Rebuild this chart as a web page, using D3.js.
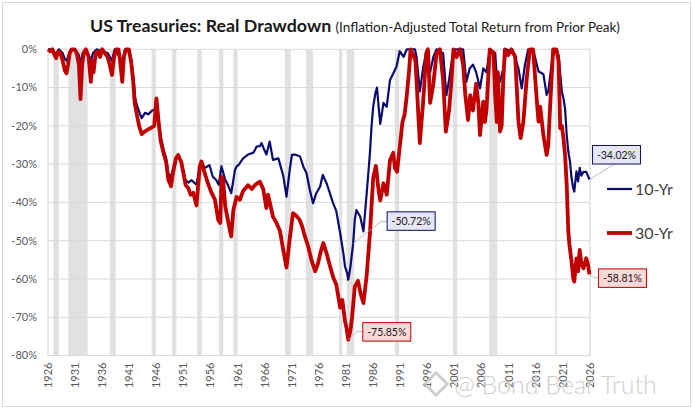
<!DOCTYPE html>
<html>
<head>
<meta charset="utf-8">
<script src="https://cdn.jsdelivr.net/npm/d3@7"></script>
<style>
  body { margin: 0; background: #fff; }
  svg { display: block; font-family: Lato, "Liberation Sans", sans-serif; }
</style>
</head>
<body>
<svg id="chart" width="693" height="409"></svg>
<script>
// year, drawdown %
const tenYr = [
  [1926.0, 0], [1926.5, 0], [1927.0, -0.5], [1927.5, -1.5], [1928.0, 0], [1928.7, -1],
  [1929.1, -2.5], [1929.4, -3], [1929.8, -1.5], [1930.2, 0], [1931.0, 0], [1931.7, -1.5],
  [1932.0, -4], [1932.4, -1], [1933.0, 0], [1933.9, -3], [1934.3, -1], [1935.0, 0],
  [1937.0, -1], [1937.8, -3], [1938.3, 0], [1939.7, -3], [1940.2, 0], [1941.0, 0],
  [1941.4, -3], [1941.8, -8], [1942.1, -13], [1942.5, -15], [1943.0, -17], [1943.3, -18],
  [1943.9, -16.6], [1944.5, -17], [1945.2, -16], [1945.7, -15.8], [1946.0, -12.8], [1946.4, -18],
  [1946.8, -23], [1947.3, -26], [1947.8, -28.5], [1948.2, -32.3], [1948.7, -33.5], [1949.1, -31],
  [1949.6, -28.5], [1950.0, -27.6], [1950.6, -29.5], [1951.0, -32], [1951.3, -34], [1951.9, -34.8],
  [1952.5, -34.2], [1953.1, -35], [1953.4, -35.4], [1954.0, -30.6], [1954.3, -29.3], [1954.9, -31],
  [1955.8, -30.3], [1956.4, -33.3], [1957.0, -34.1], [1957.5, -35.4], [1958.0, -30.6], [1958.7, -34.1],
  [1959.3, -35.8], [1959.8, -37.6], [1960.5, -31.5], [1960.8, -30.6], [1961.1, -30.3], [1962.0, -28.5],
  [1962.9, -27.5], [1963.9, -27], [1964.5, -25.4], [1965.1, -25.3], [1965.4, -24.5], [1965.8, -25.9],
  [1966.3, -27.5], [1966.9, -24.1], [1967.5, -28.9], [1968.5, -28.5], [1969.4, -33], [1970.0, -38.5],
  [1970.6, -31.5], [1971.0, -27.6], [1971.6, -27.5], [1972.5, -28], [1973.1, -30.6], [1973.7, -32.4],
  [1974.3, -36.7], [1974.9, -40.2], [1975.5, -37.6], [1976.2, -35.9], [1976.7, -32.8], [1977.4, -35],
  [1978.0, -37.6], [1978.6, -40.2], [1979.2, -42.3], [1979.9, -48], [1980.5, -53.3], [1980.8, -56.8],
  [1981.2, -58.5], [1981.4, -60.2], [1981.8, -56.8], [1982.3, -50.72], [1982.6, -44.6], [1982.9, -42],
  [1983.6, -43.7], [1984.2, -47.6], [1984.7, -39.3], [1985.1, -32.4], [1985.4, -27], [1985.7, -20],
  [1986.0, -15], [1986.4, -11.5], [1986.7, -10], [1987.0, -15], [1987.3, -19.5], [1987.9, -14],
  [1988.5, -15], [1989.1, -8], [1989.7, -6.3], [1990.3, -4.5], [1990.9, -0.5], [1991.6, -2],
  [1992.2, 0], [1993.0, 0], [1993.7, 0], [1994.0, -2], [1994.6, -11], [1995.2, -5],
  [1995.8, -0.5], [1996.5, -6], [1997.1, -2], [1997.7, 0], [1998.9, -1], [1999.5, -12],
  [2000.0, -8], [2000.8, 0], [2002.6, 0], [2003.2, -8.5], [2003.8, -5], [2004.4, -4],
  [2005.0, -6], [2005.7, -10.2], [2006.3, -5], [2006.9, -6], [2007.5, 0], [2008.5, -1],
  [2008.8, -7.6], [2009.4, -8.5], [2010.0, -5], [2010.6, 0], [2011.9, -1], [2012.8, -5],
  [2013.4, -10.2], [2014.0, -4], [2014.6, 0], [2015.5, 0], [2016.5, -5.8], [2016.8, -6],
  [2017.4, -6.5], [2018.0, -11.9], [2018.3, -11], [2018.9, -4], [2019.5, 0], [2020.2, -1.5],
  [2020.8, -11], [2021.1, -12.8], [2021.4, -15.5], [2021.7, -22.4], [2022.0, -26.7], [2022.3, -29.3],
  [2022.6, -33.7], [2022.9, -36.3], [2023.1, -37.2], [2023.5, -31.9], [2023.8, -34.5], [2024.1, -31],
  [2024.4, -33], [2024.8, -32], [2025.3, -32], [2025.6, -33], [2025.9, -34.02]
];

const thirtyYr = [
  [1926.0, 0], [1926.4, -0.5], [1926.8, 0], [1927.2, -1.5], [1927.5, -2.3], [1927.9, -0.5],
  [1928.3, -1], [1928.7, -3], [1929.1, -5.5], [1929.4, -6.3], [1929.7, -4], [1930.0, -1],
  [1930.4, 0], [1930.9, 0], [1931.3, -1], [1931.7, -4], [1932.0, -13], [1932.3, -4],
  [1932.6, -1], [1933.0, 0], [1933.5, -2], [1933.9, -8.5], [1934.2, -3], [1934.4, -6],
  [1934.8, -1], [1935.2, -0.5], [1935.6, -2], [1936.0, 0], [1936.5, -1], [1937.0, -2],
  [1937.4, -4], [1937.8, -6.7], [1938.2, -2], [1938.6, 0], [1939.0, 0], [1939.3, -3],
  [1939.7, -8.5], [1940.0, -2], [1940.4, 0], [1940.9, 0], [1941.3, -3], [1941.7, -8],
  [1942.0, -14], [1942.4, -17], [1942.8, -20], [1943.3, -22.2], [1943.8, -21.5], [1944.4, -21],
  [1945.0, -20.5], [1945.6, -20], [1946.0, -12.8], [1946.4, -19], [1946.8, -24], [1947.3, -27],
  [1947.8, -29.5], [1948.2, -34], [1948.7, -35.8], [1949.1, -32], [1949.6, -28.5], [1950.0, -27.6],
  [1950.6, -29.5], [1951.0, -32.5], [1951.4, -35.5], [1951.9, -36.3], [1952.3, -38], [1952.8, -37.5],
  [1953.4, -40.8], [1954.0, -30.6], [1954.3, -29.3], [1954.9, -32.3], [1955.5, -35], [1956.2, -37.6],
  [1956.8, -39.3], [1957.4, -44.6], [1957.8, -45.4], [1958.0, -33.3], [1958.3, -34], [1958.7, -41],
  [1959.3, -45.4], [1959.8, -48.9], [1960.2, -42], [1960.8, -38.6], [1961.4, -39.3], [1962.0, -37],
  [1962.9, -35.5], [1963.6, -36.5], [1964.2, -35.4], [1965.1, -34.6], [1965.7, -36.5], [1966.3, -41.5],
  [1966.6, -38], [1967.0, -40.5], [1967.5, -43.7], [1968.2, -45.5], [1968.8, -47.5], [1969.4, -52.4],
  [1970.0, -57], [1970.6, -49.5], [1971.2, -42.8], [1971.8, -43.5], [1972.4, -44.5], [1972.9, -46.3],
  [1973.4, -48.9], [1974.0, -51.5], [1974.6, -55], [1975.3, -58], [1975.8, -56], [1976.3, -53],
  [1976.8, -50.6], [1977.4, -53.3], [1978.0, -56.5], [1978.6, -59.5], [1979.2, -61.5], [1979.9, -67.5],
  [1980.3, -65.5], [1980.8, -71], [1981.1, -73], [1981.4, -75.85], [1981.8, -73.5], [1982.1, -70],
  [1982.6, -62], [1983.2, -60.5], [1983.7, -64], [1984.2, -66.3], [1984.8, -59], [1985.4, -48],
  [1986.0, -33.5], [1986.5, -30.5], [1987.0, -37], [1987.3, -39.5], [1987.9, -35], [1988.5, -38],
  [1989.1, -29], [1989.7, -27], [1990.0, -31], [1990.4, -32], [1990.9, -25.5], [1991.4, -19],
  [1991.8, -17], [1992.2, -12], [1992.6, -6], [1992.9, 0], [1993.4, -1.5], [1993.8, -3],
  [1994.1, -11], [1994.6, -24.5], [1995.2, -14], [1995.8, -1], [1996.1, 0], [1996.5, -14],
  [1997.1, -9], [1997.7, -1], [1998.3, 0], [1998.9, -8], [1999.4, -21.5], [2000.0, -16],
  [2000.4, -9], [2000.8, 0], [2001.4, -2], [2002.0, 0], [2002.6, -4], [2003.0, -12],
  [2003.5, -18.5], [2003.9, -12], [2004.4, -16], [2005.0, -9], [2005.4, -14], [2005.7, -22.4],
  [2006.3, -13.7], [2006.6, -19], [2006.9, -16], [2007.5, 0], [2008.2, -1], [2008.5, -12],
  [2008.8, -19], [2009.0, -6], [2009.4, -21.5], [2009.7, -20], [2010.0, -8], [2010.3, 0],
  [2010.9, -1.5], [2011.5, 0], [2012.2, -2], [2012.8, -18.9], [2013.2, -23.2], [2013.7, -19],
  [2014.3, -8], [2014.9, 0], [2015.5, 0], [2016.2, -13.7], [2016.5, -18.9], [2016.8, -15],
  [2017.4, -22.4], [2018.0, -27.6], [2018.3, -25], [2018.6, -16], [2019.2, 0], [2019.8, 0],
  [2020.2, -3], [2020.5, -20.6], [2020.8, -20], [2021.1, -23.2], [2021.4, -27.6], [2021.7, -35.4],
  [2022.0, -47.6], [2022.2, -51], [2022.6, -55.5], [2022.9, -59.8], [2023.1, -60.7], [2023.5, -54.6],
  [2023.8, -58], [2024.1, -52.4], [2024.4, -56], [2024.8, -57.2], [2025.3, -54.6], [2025.6, -56],
  [2025.9, -58.81]
];

// shaded recession periods [start, end]
const recessions = [
  [1927.0, 1928.0], [1929.75, 1933.3], [1937.4, 1938.5], [1945.1, 1945.9], [1948.9, 1949.7],
  [1953.55, 1954.35], [1957.55, 1958.35], [1960.2, 1961.0], [1969.7, 1970.8], [1973.6, 1974.9],
  [1979.7, 1980.3], [1981.1, 1982.5], [1990.0, 1990.8], [2000.7, 2001.5], [2007.4, 2008.9],
  [2019.6, 2019.9]
];

const yearTicks = d3.range(1926, 2027, 5);
const pctTicks = [0, -10, -20, -30, -40, -50, -60, -70, -80];

// callouts: series, point year, label
const callouts = [
  { series: "10", year: 2025.9, label: "-34.02%", dx: 3, dy: -34, lead: [[26, -16]] },
  { series: "30", year: 2025.9, label: "-58.81%", dx: 9, dy: -5.5, lead: [[5, 3.5], [9, 3.5]] },
  { series: "10", year: 1982.3, label: "-50.72%", dx: 34, dy: -31.6, lead: [[28, -22], [34, -22]] },
  { series: "30", year: 1981.4, label: "-75.85%", dx: 14.5, dy: -17, lead: [[9, -8], [14.5, -8]] }
];

const colors = { "10": "#0c0c6e", "30": "#c00000" };
const boxFill = { "10": "#e6e6f6", "30": "#fbd9d9" };

const svg = d3.select("#chart");
const margin = { left: 48, right: 103, top: 49.3, bottom: 53.5 };
const W = 693, H = 409;

const x = d3.scaleLinear().domain([1926, 2026]).range([margin.left, W - margin.right]);
const y = d3.scaleLinear().domain([0, -80]).range([margin.top, H - margin.bottom]);

// outer chart border
svg.append("rect")
  .attr("x", 2.5).attr("y", 2.5)
  .attr("width", W - 5).attr("height", H - 5)
  .attr("fill", "#fff")
  .attr("stroke", "#d9d9d9");

// title
const title = svg.append("text")
  .attr("x", 90)
  .attr("y", 32)
  .attr("fill", "#1a1a1a");
title.append("tspan")
  .attr("font-weight", "bold")
  .attr("font-size", 17.8)
  .text("US Treasuries: Real Drawdown ");
title.append("tspan")
  .attr("font-size", 13.5)
  .text("(Inflation-Adjusted Total Return from Prior Peak)");

// recession shading
svg.append("g")
  .selectAll("rect")
  .data(recessions)
  .join("rect")
  .attr("x", d => x(d[0]))
  .attr("width", d => Math.max(1.2, x(d[1]) - x(d[0])))
  .attr("y", y(0))
  .attr("height", y(-80) - y(0))
  .attr("fill", "#e1e1e1");

// gridlines
svg.append("g")
  .selectAll("line")
  .data(pctTicks)
  .join("line")
  .attr("x1", x(1926)).attr("x2", x(2026))
  .attr("y1", d => y(d)).attr("y2", d => y(d))
  .attr("stroke", "#d9d9d9")
  .attr("stroke-width", 1);

// plot edges
svg.append("line")
  .attr("x1", x(1926)).attr("x2", x(1926))
  .attr("y1", y(0)).attr("y2", y(-80))
  .attr("stroke", "#d0d0d0");
svg.append("line")
  .attr("x1", x(2026)).attr("x2", x(2026))
  .attr("y1", y(0)).attr("y2", y(-80))
  .attr("stroke", "#d0d0d0");

// y axis labels
svg.append("g")
  .selectAll("text")
  .data(pctTicks)
  .join("text")
  .attr("x", margin.left - 11)
  .attr("y", d => y(d))
  .attr("dy", "0.35em")
  .attr("text-anchor", "end")
  .attr("font-size", 11)
  .attr("fill", "#595959")
  .text(d => d + "%");

// x axis labels (rotated)
svg.append("g")
  .selectAll("text")
  .data(yearTicks)
  .join("text")
  .attr("transform", d => `translate(${x(d)},${y(-80) + 7}) rotate(-90)`)
  .attr("dy", "0.35em")
  .attr("text-anchor", "end")
  .attr("font-size", 11)
  .attr("fill", "#595959")
  .text(d => d);

// lines
const line = d3.line()
  .x(d => x(d[0]))
  .y(d => y(d[1]));

svg.append("path")
  .datum(tenYr)
  .attr("d", line)
  .attr("fill", "none")
  .attr("stroke", colors["10"])
  .attr("stroke-width", 2.2)
  .attr("stroke-linejoin", "round");

svg.append("path")
  .datum(thirtyYr)
  .attr("d", line)
  .attr("fill", "none")
  .attr("stroke", colors["30"])
  .attr("stroke-width", 3.8)
  .attr("stroke-linejoin", "round");

// callouts
const seriesData = { "10": tenYr, "30": thirtyYr };
const cg = svg.append("g").attr("font-size", 10.5);
callouts.forEach(c => {
  const pt = seriesData[c.series].find(d => d[0] === c.year);
  const ax = x(pt[0]), ay = y(pt[1]);
  const pts = [[ax, ay]].concat(c.lead.map(p => [ax + p[0], ay + p[1]]));
  cg.append("path")
    .attr("d", d3.line()(pts))
    .attr("fill", "none")
    .attr("stroke", "#a6a6a6")
    .attr("stroke-width", 0.8);
  const bw = 48, bh = 18.5;
  cg.append("rect")
    .attr("x", ax + c.dx).attr("y", ay + c.dy)
    .attr("width", bw).attr("height", bh)
    .attr("fill", boxFill[c.series])
    .attr("stroke", colors[c.series])
    .attr("stroke-width", 1);
  cg.append("text")
    .attr("x", ax + c.dx + bw / 2)
    .attr("y", ay + c.dy + bh / 2)
    .attr("dy", "0.36em")
    .attr("text-anchor", "middle")
    .attr("fill", "#1a1a1a")
    .text(c.label);
});

// legend
const legend = [
  { key: "10", label: "10-Yr", yPos: 189, w: 2.2 },
  { key: "30", label: "30-Yr", yPos: 233, w: 3.8 }
];
const lg = svg.append("g");
legend.forEach(l => {
  lg.append("line")
    .attr("x1", 607).attr("x2", 632)
    .attr("y1", l.yPos).attr("y2", l.yPos)
    .attr("stroke", colors[l.key])
    .attr("stroke-width", l.w);
  lg.append("text")
    .attr("x", 635)
    .attr("y", l.yPos)
    .attr("dy", "0.36em")
    .attr("font-size", 16)
    .attr("fill", "#404040")
    .text(l.label);
});

// watermark
const wm = svg.append("g").attr("opacity", 0.8);
wm.append("path")
  .attr("transform", "translate(436,384)")
  .attr("d", d3.symbol(d3.symbolDiamond2, 320)())
  .attr("fill", "none")
  .attr("stroke", "#c4c4c4")
  .attr("stroke-width", 3);
wm.append("text")
  .attr("x", 454)
  .attr("y", 394)
  .attr("font-size", 25)
  .attr("font-weight", 300)
  .attr("fill", "#c4c4c4")
  .attr("stroke", "#fff")
  .attr("stroke-width", 0.6)
  .attr("paint-order", "stroke")
  .text("@ Bond Bear Truth");
</script>
</body>
</html>
